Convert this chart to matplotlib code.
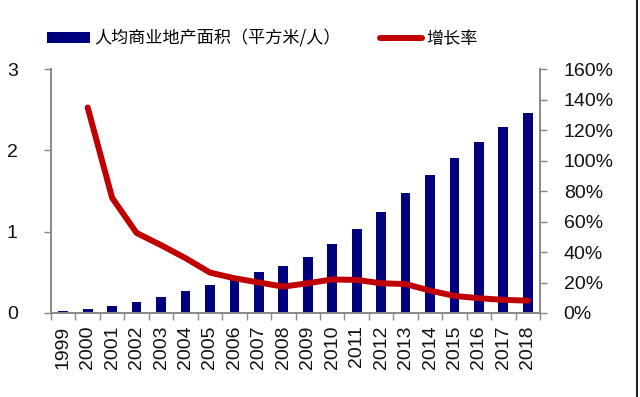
import numpy as np
import matplotlib.pyplot as plt
from matplotlib.lines import Line2D
from matplotlib.ticker import FuncFormatter, FixedLocator

plt.rcParams['font.family'] = ['Liberation Sans', 'Noto Sans CJK SC', 'DejaVu Sans']

years = [str(y) for y in range(1999, 2019)]
area = [0.02, 0.05, 0.09, 0.13, 0.20, 0.27, 0.34, 0.43, 0.50, 0.58,
        0.69, 0.845, 1.03, 1.24, 1.47, 1.70, 1.91, 2.10, 2.29, 2.46]
growth_years = years[1:]
growth = [134.8, 75.5, 52.5, 44.5, 36.0, 26.5, 22.8, 20.0, 17.3, 19.5,
          22.0, 21.7, 19.5, 19.0, 14.7, 11.2, 9.7, 8.6, 8.1]

bar_label = '人均商业地产面积（平方米/人）'
line_label = '增长率'

fig = plt.figure(figsize=(6.4, 3.97), dpi=100)
ax = fig.add_axes([0.0797, 0.2116, 0.7641, 0.6144])
ax2 = ax.twinx()

x = np.arange(len(years))
xg = np.array([years.index(y) for y in growth_years])
bars = ax.bar(x, area, width=0.4, color='#00007f', label=bar_label, zorder=2)
line, = ax2.plot(xg, np.array(growth) / 100, color='#c00000', lw=4.3,
                 solid_capstyle='round', solid_joinstyle='round',
                 label=line_label, zorder=3)

ax.set_xlim(-0.5, len(years) - 0.5)
ax.set_ylim(0, 3)
ax2.set_ylim(0, 1.6)
ax.set_yticks([0, 1, 2, 3])
ax2.set_yticks(np.arange(0, 1.61, 0.2))
ax2.yaxis.set_major_formatter(FuncFormatter(lambda v, p: f'{v*100:.0f}%'))

ax.set_xticks(x)
ax.set_xticklabels(years, rotation=90)
ax.xaxis.set_minor_locator(FixedLocator(np.arange(-0.5, len(years), 1)))
ax.tick_params(axis='x', which='major', length=0, pad=9, labelsize=14, colors='#111111')
ax.tick_params(axis='x', which='minor', length=5, width=1, color='#888888')
ax.tick_params(axis='y', length=5, width=1, color='#888888', pad=19,
               labelsize=14, labelcolor='#111111')
ax2.tick_params(axis='y', length=5, width=1, color='#888888', pad=12,
                labelsize=14, labelcolor='#111111')

for a in (ax, ax2):
    a.spines['top'].set_visible(False)
    for s in ('left', 'right', 'bottom'):
        a.spines[s].set_color('#888888')
        a.spines[s].set_linewidth(1.2)

ax2.set_zorder(ax.get_zorder() + 1)
ax2.patch.set_visible(False)

fig.legend(handles=[bars, line], labels=[bar_label, line_label], ncol=2,
           loc='center', bbox_to_anchor=(0.41, 0.903), frameon=False,
           prop={'family': ['Noto Sans CJK SC'], 'size': 12.3},
           handlelength=2.5, handleheight=0.65, handletextpad=0.25, columnspacing=2.3)

# dark edge at the right side of the original screenshot
fig.add_artist(Line2D([0.996, 0.996], [0, 1], transform=fig.transFigure,
                      color='#222222', lw=1.5))

plt.savefig('out.png', dpi=100)
